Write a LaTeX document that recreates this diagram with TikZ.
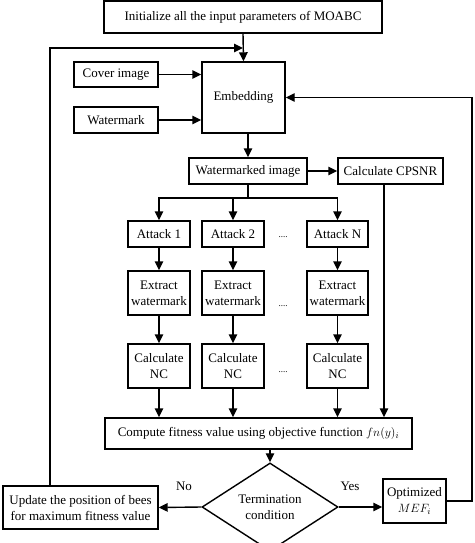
\documentclass[tikz,border=0pt]{standalone}
\usepackage{fontspec}
\setmainfont{Liberation Serif}
\usetikzlibrary{shapes.geometric,arrows.meta}
\begin{document}
\begin{tikzpicture}[x=1pt,y=-1pt,
  every node/.style={font=\fontsize{13}{16}\selectfont},
  box/.style={draw,line width=1.4pt,inner sep=1pt,align=center},
  arr/.style={line width=1.4pt,-{Triangle[length=9pt,width=8.5pt]}},
  ln/.style={line width=1.4pt},
  dots/.style={font=\fontsize{9}{10}\selectfont}]
\useasboundingbox (0,0) rectangle (474,543);
\node[box,minimum width=278,minimum height=32] (init) at (243,17) {Initialize all the input parameters of MOABC};
\node[box,minimum width=83,minimum height=71] (embed) at (243.5,97.5) {Embedding};
\node[box,minimum width=84,minimum height=25] (cover) at (116,74.5) {Cover image};
\node[box,minimum width=84,minimum height=26] (wm) at (116,120) {Watermark};
\node[box,minimum width=118,minimum height=26] (wmi) at (248,171) {Watermarked image};
\node[box,minimum width=105,minimum height=26] (cpsnr) at (390.5,171) {Calculate CPSNR};
\node[box,minimum width=62,minimum height=26] (a1) at (159,234) {Attack 1};
\node[box,minimum width=62,minimum height=26] (a2) at (233,234) {Attack 2};
\node[box,minimum width=61,minimum height=26] (aN) at (337.5,234) {Attack N};
\node[box,minimum width=62,minimum height=44] (e1) at (159,293) {Extract\\watermark};
\node[box,minimum width=62,minimum height=44] (e2) at (233,293) {Extract\\watermark};
\node[box,minimum width=61,minimum height=44] (eN) at (337.5,293) {Extract\\watermark};
\node[box,minimum width=62,minimum height=44] (n1) at (159,366) {Calculate\\NC};
\node[box,minimum width=62,minimum height=44] (n2) at (233,366) {Calculate\\NC};
\node[box,minimum width=61,minimum height=44] (nN) at (337.5,366) {Calculate\\NC};
\node[dots] (d1) at (283,237) {....};
\node[dots] (d2) at (283,306) {....};
\node[dots] (d3) at (283,372) {....};
\node[box,minimum width=307,minimum height=31] (comp) at (258.5,433.5) {Compute fitness value using objective function $fn(y)_i$};
\node[draw,line width=1.4pt,shape=diamond,inner sep=0pt,minimum width=136,minimum height=70,align=center] (dia) at (270,507) {Termination\\condition};
\node[box,minimum width=155,minimum height=43] (upd) at (80.5,507.5) {Update the position of bees\\for maximum fitness value};
\node[box,minimum width=63,minimum height=44] (opt) at (414.5,501) {Optimized\\$MEF_i$};
\node (no) at (184,486) {No};
\node (yes) at (350,486) {Yes};
\coordinate (L) at (50,48);
\coordinate (br) at (248,198);
\coordinate (cp) at (384,184);
\coordinate (R) at (472,0);
% connectors
\draw[arr] (init.south) -- (embed.north);
\draw[arr] (upd.north -| L) -- (L) -- (L -| init.south);
\draw[arr] (opt.east) -- (opt.east -| R) |- (embed.east);
\draw[arr] (cover.east) -- (cover.east -| embed.west);
\draw[arr] (wm.east) -- (wm.east -| embed.west);
\draw[arr] (wmi.north |- embed.south) -- (wmi.north);
\draw[arr] (wmi.east) -- (wmi.east -| cpsnr.west);
\draw[ln] (wmi.south) -- (br);
\draw[arr] (br) -| (a1.north);
\draw[arr] (br) -| (a2.north);
\draw[arr] (br) -| (aN.north);
\draw[arr] (a1) -- (e1);
\draw[arr] (a2) -- (e2);
\draw[arr] (aN) -- (eN);
\draw[arr] (e1) -- (n1);
\draw[arr] (e2) -- (n2);
\draw[arr] (eN) -- (nN);
\draw[arr] (n1.south) -- (n1.south |- comp.north);
\draw[arr] (n2.south) -- (n2.south |- comp.north);
\draw[arr] (nN.south) -- (nN.south |- comp.north);
\draw[arr] (cp) -- (cp |- comp.north);
\draw[arr] (dia.north |- comp.south) -- (dia.north);
\draw[arr] (dia.west) -- (upd.east);
\draw[arr] (dia.east) -- (opt.west |- dia.east);
\end{tikzpicture}
\end{document}
